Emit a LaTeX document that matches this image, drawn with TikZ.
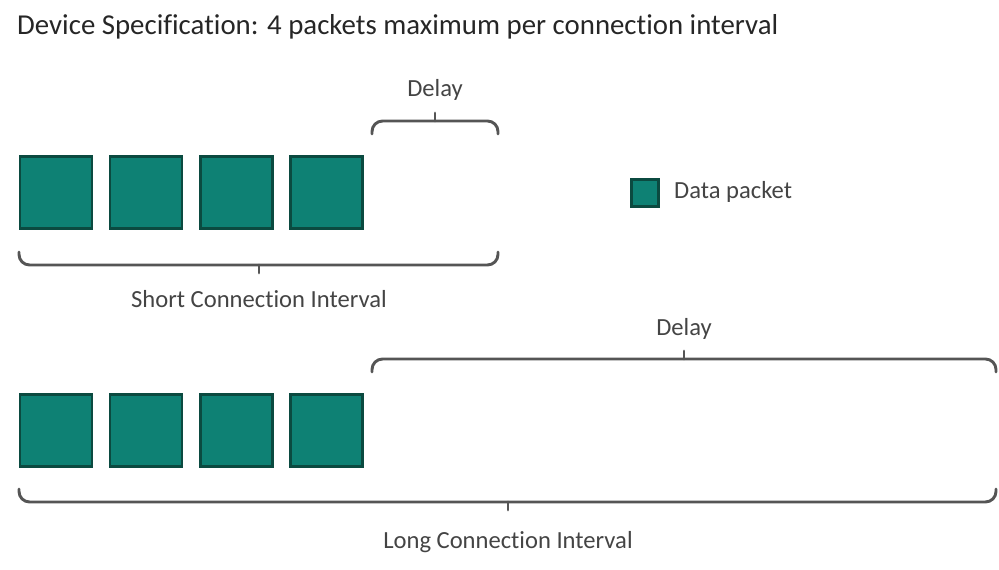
\documentclass[tikz,border=0pt]{standalone}
\usepackage{fontspec}
\setmainfont{Carlito}[RawFeature=-liga]
\usepackage{tikz}

\definecolor{packetfill}{HTML}{0E8174}
\definecolor{packetedge}{HTML}{0B4A40}
\definecolor{bracegray}{HTML}{555555}
\definecolor{labelgray}{HTML}{444444}

\tikzset{
    packet/.style={draw=packetedge, fill=packetfill, line width=2.2pt, minimum size=2.15cm, inner sep=0pt},
    legendpacket/.style={packet, minimum size=0.82cm},
    bracket/.style={draw=bracegray, line width=2.5pt, rounded corners=9pt, line cap=round},
    lbl/.style={text=labelgray, font=\fontsize{21}{25}\selectfont, anchor=base, inner sep=0pt}
}

\begin{document}
\begin{tikzpicture}[x=0.03cm, y=-0.03cm]
    \useasboundingbox (0,0) rectangle (999,570);

    % title
    \node[anchor=base west, inner sep=0pt, text=black!85, font=\fontsize{24.6}{28}\selectfont] (title) at (17,35)
        {Device Specification: 4 packets maximum per connection interval};

    % packets, short and long interval
    \foreach \i/\x in {1/56, 2/146, 3/236.5, 4/326.5} {
        \node[packet] (s\i) at (\x,192.5) {};
        \node[packet] (l\i) at (\x,430.5) {};
    }

    % legend
    \node[legendpacket] (legbox) at (645,193) {};
    \node[lbl, anchor=base west] (leglbl) at (674,199) {Data packet};

    % short interval
    \draw[bracket] (372,134) -- (372,121) -- (498,121) -- (498,134);
    \draw[bracket] (435,121) -- (435,113);
    \node[lbl] (delayshort) at (435,97) {Delay};

    \draw[bracket] (19,252) -- (19,265) -- (498,265) -- (498,252);
    \draw[bracket] (259,265) -- (259,273);
    \node[lbl] (shortlbl) at (259,308) {Short Connection Interval};

    % long interval
    \draw[bracket] (372,372) -- (372,359) -- (996,359) -- (996,372);
    \draw[bracket] (684,359) -- (684,351);
    \node[lbl] (delaylong) at (684,336) {Delay};

    \draw[bracket] (19,489) -- (19,502) -- (996,502) -- (996,489);
    \draw[bracket] (508,502) -- (508,510);
    \node[lbl] (longlbl) at (508,548) {Long Connection Interval};

\end{tikzpicture}
\end{document}
